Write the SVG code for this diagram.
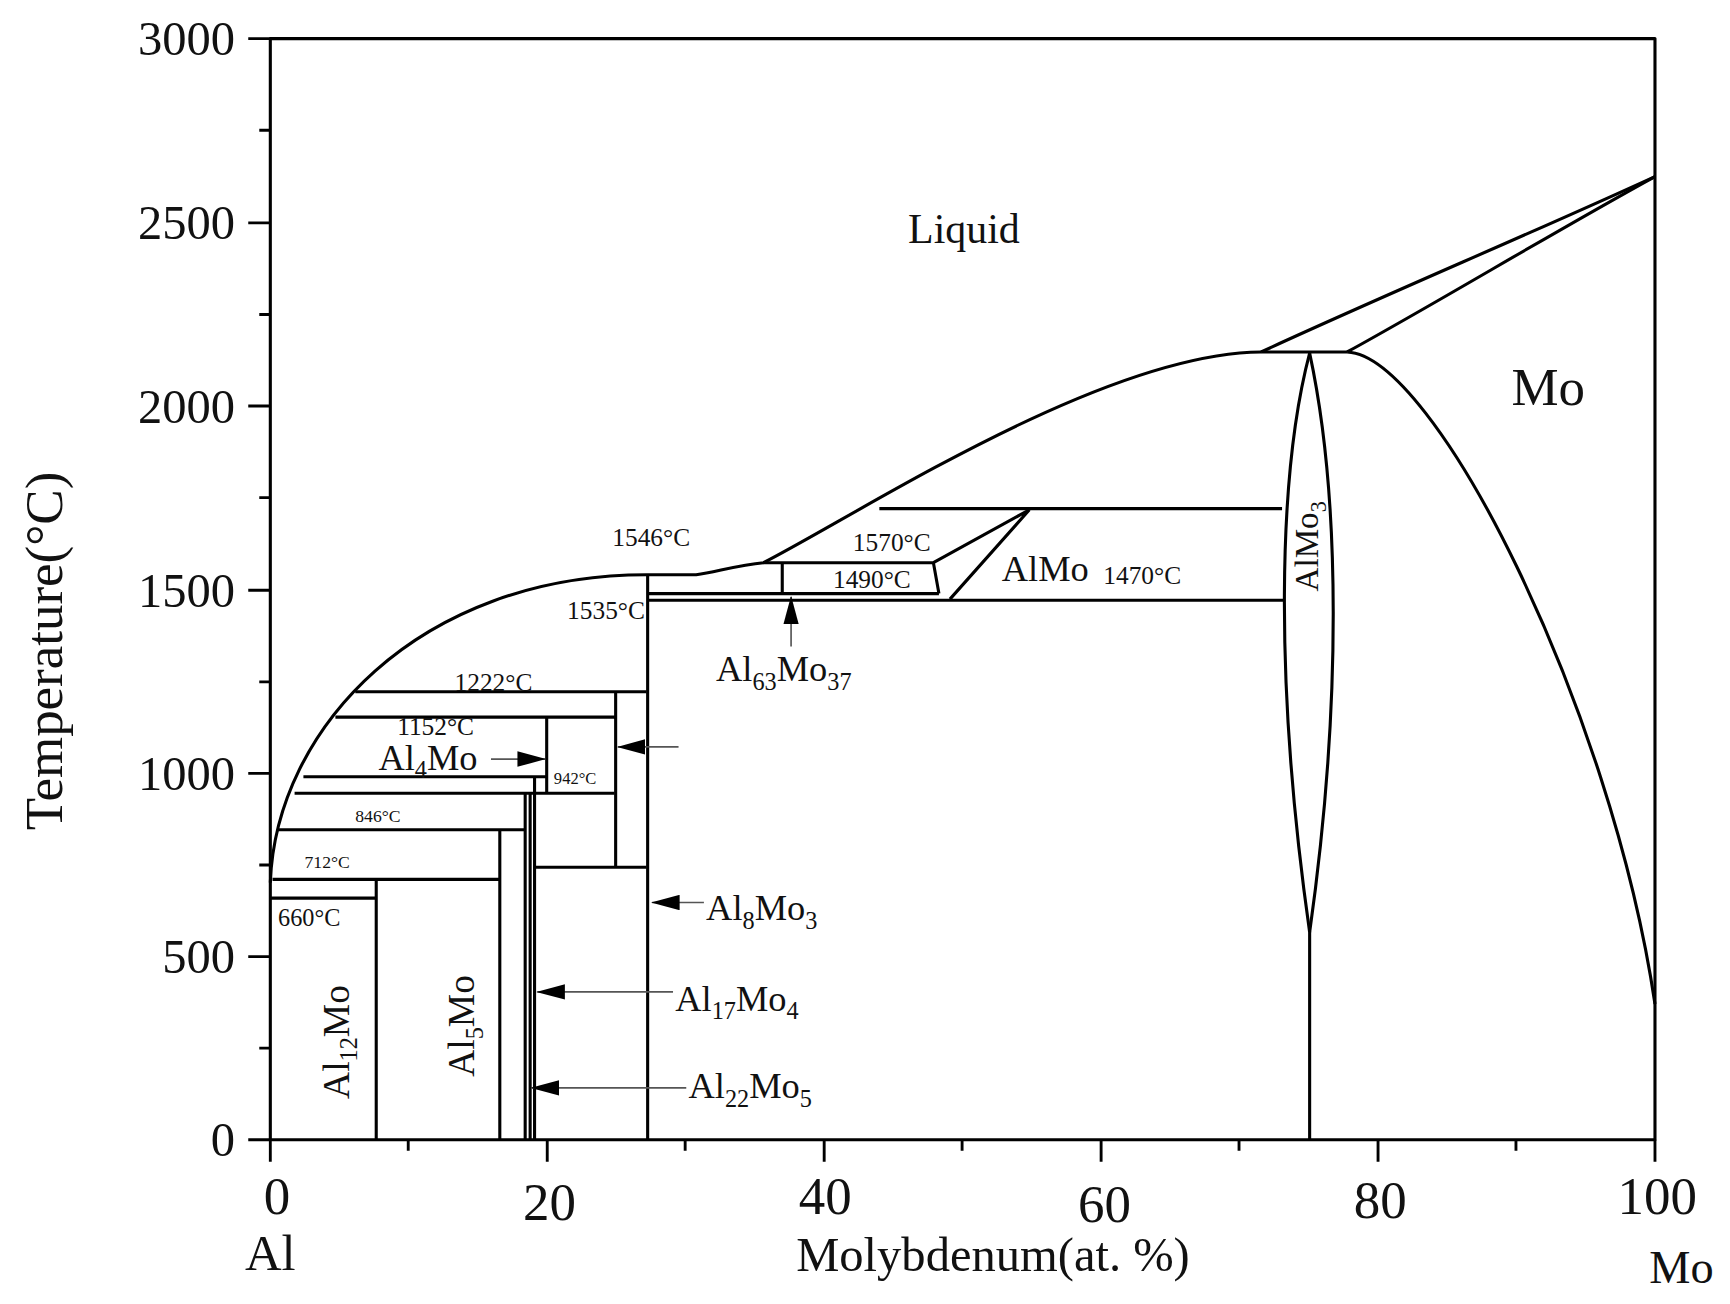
<svg xmlns="http://www.w3.org/2000/svg" width="1730" height="1304" viewBox="0 0 1730 1304">
<style>
.ln{fill:none;stroke:#000;stroke-width:2.8;stroke-linejoin:round}
.tk{stroke:#000;stroke-width:2.6}
.ar{stroke:#555;stroke-width:1.5;fill:none}
text{font-family:"Liberation Serif","Times New Roman",serif;fill:#111}
.ax{font-size:44px}
.lb{font-size:33px}
.sm{font-size:23px}
.xs{font-size:15px}
</style>
<defs>
<marker id="ah" markerUnits="userSpaceOnUse" markerWidth="26" markerHeight="14" refX="25" refY="7" orient="auto">
<path d="M0,0 L26,7 L0,14 Z" fill="#000"/>
</marker>
</defs>
<rect width="1730" height="1304" fill="#fff"/>
<g transform="scale(1.10332)">
<g id="axes">
<rect x="245" y="35" width="1255" height="998" class="ln"/>
<path class="tk" d="M225,1033H245M225,867H245M225,701H245M225,535H245M225,368H245M225,202H245M225,35H245M235,950H245M235,784H245M235,618H245M235,451H245M235,285H245M235,118H245"/>
<path class="tk" d="M245,1033V1053M496,1033V1053M747,1033V1053M998,1033V1053M1249,1033V1053M1500,1033V1053M370,1033V1043M621,1033V1043M872,1033V1043M1123,1033V1043M1374,1033V1043"/>
<g class="ax" text-anchor="end">
<text x="213" y="1048">0</text><text x="213" y="882">500</text><text x="213" y="716">1000</text><text x="213" y="550">1500</text><text x="213" y="383">2000</text><text x="213" y="217">2500</text><text x="213" y="50">3000</text>
</g>
<g font-size="48" text-anchor="middle">
<text x="251" y="1100">0</text><text x="498" y="1106">20</text><text x="748" y="1100">40</text><text x="1001" y="1108">60</text><text x="1251" y="1104">80</text><text x="1502" y="1100">100</text>
</g>
<text x="245" y="1151" text-anchor="middle" font-size="46">Al</text>
<text x="900" y="1152" text-anchor="middle" font-size="44">Molybdenum(at. %)</text>
<text x="1524" y="1163" text-anchor="middle" font-size="42">Mo</text>
<text transform="translate(56,590) rotate(-90)" text-anchor="middle" font-size="48">Temperature(°C)</text>
</g>
<g id="phase-lines" class="ln">
<path d="M245,800 C250,660 380,521 586,521 L631,521 C650,518 670,512 692,510 C780,465 1000,320 1143,319"/>
<path d="M1143,319 L1221,319"/>
<path d="M1143,319 C1260,265 1380,215 1500,160"/>
<path d="M1221,319 C1310,270 1400,215 1500,160"/>
<path d="M1221,319 C1300,322 1460,640 1500,910"/>
<path d="M1187,320 C1158,430 1155,620 1187,845 L1187,1033"/>
<path d="M1187,320 C1215,450 1216,640 1187,845"/>
<path d="M797,461 H1162"/>
<path d="M692,510 H846 L933,462 M846,510 L851,538 M861,543 L933,462"/>
<path d="M587,521 V1033 M587,538 H851 M587,544 H1163 M709,510 V538"/>
<path d="M322,627 H586 M304,650 H558 M558,627 V786 M485,786 H586"/>
<path d="M275,704 H495 M495.5,650 V719 M267,719 H557 M252,752 H476 M247,797 H453 M245,814 H341"/>
<path d="M341,797 V1033 M453,752 V1033 M476,719 V1033 M480.5,719 V1033 M484.5,704 V1033"/>
</g>
<g id="arrows" class="ar">
<path d="M445,688 H494" marker-end="url(#ah)"/>
<path d="M615,677 H560" marker-end="url(#ah)"/>
<path d="M717,586 V541" marker-end="url(#ah)"/>
<path d="M638,818 H591" marker-end="url(#ah)"/>
<path d="M610,899 H487" marker-end="url(#ah)"/>
<path d="M622,986 H482" marker-end="url(#ah)"/>
</g>
<g id="labels">
<text x="823" y="220" font-size="38">Liquid</text>
<text x="1370" y="367" font-size="48">Mo</text>
<text x="555" y="495" class="sm">1546°C</text>
<text x="514" y="561" class="sm">1535°C</text>
<text x="773" y="499" class="sm">1570°C</text>
<text x="755" y="533" class="sm">1490°C</text>
<text x="908" y="527" class="lb">AlMo</text>
<text x="1000" y="529" class="sm">1470°C</text>
<text transform="translate(1195,536) rotate(-90)" font-size="30">AlMo<tspan font-size="20" dy="7">3</tspan></text>
<text x="649" y="617" class="lb">Al<tspan font-size="22" dy="8">63</tspan><tspan dy="-8">Mo</tspan><tspan font-size="22" dy="8">37</tspan></text>
<text x="412" y="626" class="sm">1222°C</text>
<text x="360" y="666" class="sm">1152°C</text>
<text x="343" y="698" font-size="33">Al<tspan font-size="22" dy="7">4</tspan><tspan dy="-7">Mo</tspan></text>
<text x="502" y="711" class="xs">942°C</text>
<text x="322" y="745" font-size="16">846°C</text>
<text x="276" y="787" font-size="16">712°C</text>
<text x="252" y="839" font-size="22">660°C</text>
<text transform="translate(316,996) rotate(-90)" font-size="34">Al<tspan font-size="22" dy="8">12</tspan><tspan dy="-8">Mo</tspan></text>
<text transform="translate(430,976) rotate(-90)" font-size="34">Al<tspan font-size="22" dy="8">5</tspan><tspan dy="-8">Mo</tspan></text>
<text x="640" y="834" class="lb">Al<tspan font-size="22" dy="8">8</tspan><tspan dy="-8">Mo</tspan><tspan font-size="22" dy="8">3</tspan></text>
<text x="612" y="916" class="lb">Al<tspan font-size="22" dy="8">17</tspan><tspan dy="-8">Mo</tspan><tspan font-size="22" dy="8">4</tspan></text>
<text x="624" y="995" class="lb">Al<tspan font-size="22" dy="8">22</tspan><tspan dy="-8">Mo</tspan><tspan font-size="22" dy="8">5</tspan></text>
</g>
</g>
</svg>
